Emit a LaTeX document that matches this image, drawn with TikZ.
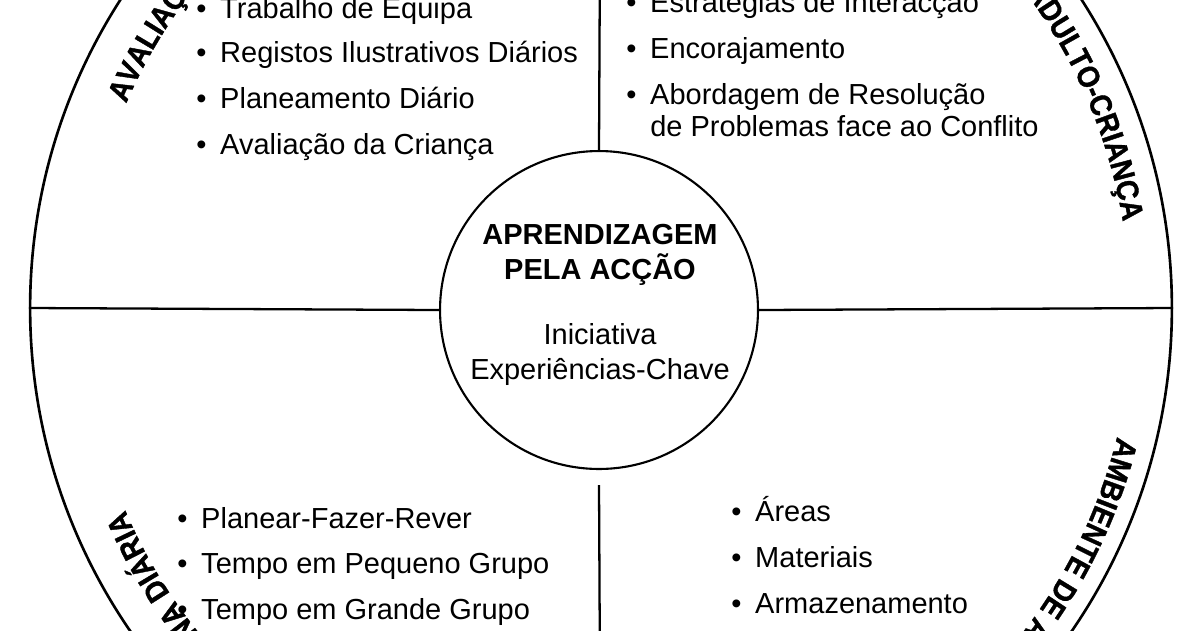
\documentclass[tikz,border=0pt]{standalone}
\usepackage{fontspec}
\setmainfont{Liberation Sans}
\newfontfamily\rimface[FakeStretch=0.9,BoldFeatures={FakeBold=1.2}]{Liberation Sans}
\usetikzlibrary{calc,decorations.text}

\newcommand{\bul}{\makebox[13.6pt][l]{\textbullet}}
\newcommand{\rimfont}{\rimface\fontsize{17.5}{19}\selectfont\bfseries}

\begin{document}
\begin{tikzpicture}[
  x=0.02cm, y=0.02cm,
  font=\fontsize{16.5}{18.2}\selectfont,
  wheel/.style={circle,draw,line width=1.5pt,minimum size=22.84cm,inner sep=0pt},
  hub/.style={circle,draw,line width=1.2pt,minimum size=6.36cm,inner sep=0pt},
  spoke/.style={line width=1.3pt},
  item/.style={anchor=base west,inner sep=0pt,align=left},
  title/.style={anchor=base,inner sep=0pt,font=\fontsize{16.5}{18.2}\selectfont\bfseries},
  sub/.style={anchor=base,inner sep=0pt},
  rim/.style={decorate,decoration={text along path,text align=#1}}
]

% -------------------------
% Frame
% -------------------------
\path[use as bounding box,fill=white] (0,0) rectangle (1186,-630);
\clip (0,0) rectangle (1186,-630);

% rim text radii (baseline)
\def\rLeft{517}
\def\rTopRight{529}
\def\rLowRight{532}

% -------------------------
% Wheel and hub
% -------------------------
\node[wheel] (wheel) at (601,-308) {};
\node[hub]   (hub)   at (599,-310) {};

% spokes (the sheet sits a little askew)
\foreach \a in {0.7,90.7,180.7} {
  \draw[spoke] (hub.\a) -- (wheel.\a);
}
\draw[spoke] ([yshift=-0.3cm]hub.270.7) -- (wheel.270.7);

% -------------------------
% Hub text
% -------------------------
\node[title] (ttl-1) at (600,-244) {APRENDIZAGEM};
\node[title] (ttl-2) at (600,-279) {PELA ACÇÃO};
\node[sub]   (sub-1) at (600,-344) {Iniciativa};
\node[sub]   (sub-2) at (600,-379) {Experiências-Chave};

% -------------------------
% Rim labels (clockwise, tops outward)
% -------------------------
\path[rim=left,decoration={text={|\rimfont|AVALIAÇÃO}}]
  ($(wheel.center)+(156.7:\rLeft)$) arc[start angle=156.7,end angle=60,radius=\rLeft];
\path[rim=right,decoration={text={|\rimfont|INTERACÇÃO ADULTO-CRIANÇA}}]
  ($(wheel.center)+(120:\rTopRight)$) arc[start angle=120,end angle=9.4,radius=\rTopRight];
\path[rim=left,decoration={text={|\rimfont|AMBIENTE DE APRENDIZAGEM}}]
  ($(wheel.center)+(-14:\rLowRight)$) arc[start angle=-14,end angle=-130,radius=\rLowRight];
\path[rim=right,decoration={text={|\rimfont|ROTINA DIÁRIA}}]
  ($(wheel.center)+(300:\rLeft)$) arc[start angle=300,end angle=203,radius=\rLeft];

% -------------------------
% Quadrant lists
% -------------------------

% top left
\foreach \n/\y/\txt in {1/18/Trabalho de Equipa,
                        2/62/Registos Ilustrativos Diários,
                        3/108/Planeamento Diário,
                        4/154/Avaliação da Criança} {
  \node[item] (tl-\n) at (196,-\y) {\bul\txt};
}

% top right
\foreach \n/\y/\txt in {1/12/Estratégias de Interacção,
                        2/58/Encorajamento} {
  \node[item] (tr-\n) at (626,-\y) {\bul\txt};
}
\node[item] (tr-3) at (626,-136) {\bul Abordagem de Resolução\\\hspace*{13.6pt}de Problemas face ao Conflito};

% bottom left
\foreach \n/\y/\txt in {1/528/Planear-Fazer-Rever,
                        2/573/Tempo em Pequeno Grupo,
                        3/619/Tempo em Grande Grupo} {
  \node[item] (bl-\n) at (177,-\y) {\bul\txt};
}

% bottom right
\foreach \n/\y/\txt in {1/521/Áreas,
                        2/567/Materiais,
                        3/613/Armazenamento} {
  \node[item] (br-\n) at (731,-\y) {\bul\txt};
}

\end{tikzpicture}
\end{document}
